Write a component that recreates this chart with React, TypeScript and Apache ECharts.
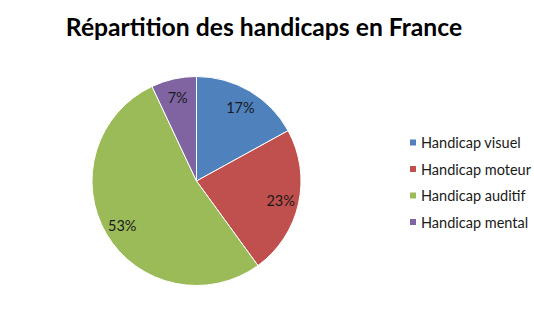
import React, { useEffect, useRef } from "react";
import * as echarts from "echarts";

const titleText = "Répartition des handicaps en France";
const categories = ["Handicap visuel", "Handicap moteur", "Handicap auditif", "Handicap mental"];
const values = [17, 23, 53, 7];
const colors = ["#4F81BD", "#C0504D", "#9BBB59", "#8064A2"];

export default function App() {
  const ref = useRef<HTMLDivElement>(null);
  useEffect(() => {
    if (!ref.current) return;
    const chart = echarts.init(ref.current, undefined, { renderer: "svg" });
    const data = categories.map((name, i) => ({ name, value: values[i] }));
    chart.setOption({
      animation: false,
      backgroundColor: "#ffffff",
      color: colors,
      title: {
        text: titleText,
        left: 259,
        top: 9,
        textAlign: "center",
        textStyle: {
          fontFamily: "Lato",
          fontWeight: "bold",
          fontSize: 24.7,
          color: "#000000",
        },
      },
      legend: {
        orient: "vertical",
        left: 403,
        top: 130,
        icon: "rect",
        itemWidth: 8,
        itemHeight: 8,
        itemGap: 11.5,
        data: categories,
        textStyle: {
          fontFamily: "Lato",
          fontSize: 14.5,
          lineHeight: 15,
          color: "#1a1a1a",
          padding: [0, 0, 0, -1],
        },
      },
      series: [
        {
          type: "pie",
          center: [196.5, 181],
          radius: [0, 104.5],
          startAngle: 90,
          clockwise: true,
          label: { show: false },
          labelLine: { show: false },
          itemStyle: { borderColor: "#ffffff", borderWidth: 1 },
          emphasis: { disabled: true },
          data,
        },
        {
          type: "pie",
          center: [196.5, 181.5],
          radius: [62, 104.5],
          startAngle: 90,
          clockwise: true,
          silent: true,
          legendHoverLink: false,
          itemStyle: { color: "rgba(0,0,0,0)" },
          label: {
            show: true,
            position: "inside",
            formatter: (p: any) => p.value + "%",
            fontFamily: "Lato",
            fontSize: 14.5,
            color: "#1a1a1a",
          },
          labelLine: { show: false },
          emphasis: { disabled: true },
          data: data.map((d) => ({ ...d, name: d.name + " " })),
        },
      ],
    });
    return () => chart.dispose();
  }, []);
  return (
    <div
      ref={ref}
      style={{ position: "absolute", left: 0, top: 0, width: 534, height: 317 }}
    />
  );
}
